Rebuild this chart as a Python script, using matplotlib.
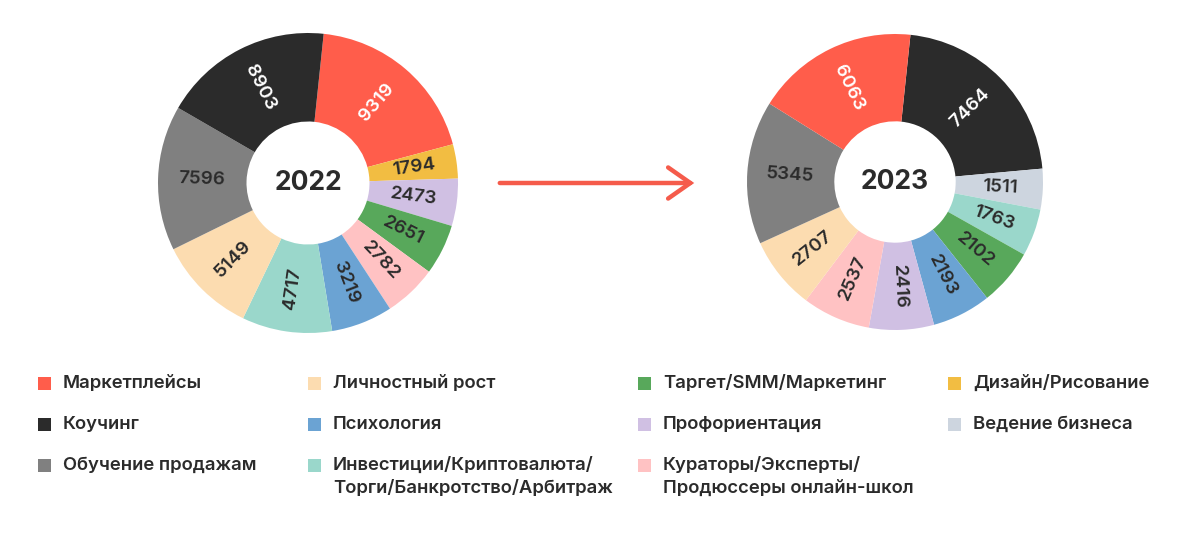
import numpy as np
import matplotlib
matplotlib.use("Agg")
import matplotlib.pyplot as plt
from matplotlib.patches import Rectangle, FancyArrowPatch

plt.rcParams['font.family'] = ['Inter', 'DejaVu Sans']

DARK = '#2b2b2b'

# categories and colours
cat_names = ['Маркетплейсы', 'Коучинг', 'Обучение продажам',
             'Личностный рост', 'Психология',
             'Инвестиции/Криптовалюта/\nТорги/Банкротство/Арбитраж',
             'Таргет/SMM/Маркетинг', 'Профориентация',
             'Кураторы/Эксперты/\nПродюссеры онлайн-школ',
             'Дизайн/Рисование', 'Ведение бизнеса']
cat_colors = ['#ff5d4b', '#2b2b2b', '#808080',
              '#fcdcb0', '#6ba3d3', '#9ad7cb',
              '#58a85b', '#d0c0e3', '#ffc2c3',
              '#f2bd42', '#cdd5df']
white_text = ['Маркетплейсы', 'Коучинг']

# 2022 (clockwise order)
cats_2022 = [0, 9, 7, 6, 8, 4, 5, 3, 2, 1]
vals_2022 = [9319, 1794, 2473, 2651, 2782, 3219, 4717, 5149, 7596, 8903]
# 2023 (clockwise order)
cats_2023 = [1, 10, 5, 6, 4, 7, 8, 3, 2, 0]
vals_2023 = [7464, 1511, 1763, 2102, 2193, 2416, 2537, 2707, 5345, 6063]

W, H = 1200, 534
fig = plt.figure(figsize=(12, 5.34), dpi=100)
fig.patch.set_facecolor('white')


def donut(cx, cy, r, cats, vals, year):
    ax = fig.add_axes([(cx - r) / W, (H - cy - r) / H, 2 * r / W, 2 * r / H])
    cols = [cat_colors[c] for c in cats]
    wedges, _ = ax.pie(vals, colors=cols, startangle=84, counterclock=False,
                       radius=1, wedgeprops=dict(width=0.59, edgecolor='none',
                                                 linewidth=0))
    for w, c, v in zip(wedges, cats, vals):
        mid = (w.theta1 + w.theta2) / 2.0
        rad = np.deg2rad(mid)
        rot = (mid + 180) % 360 - 180
        if rot > 90:
            rot -= 180
        elif rot < -90:
            rot += 180
        tc = 'white' if cat_names[c] in white_text else DARK
        ax.text(0.71 * np.cos(rad), 0.71 * np.sin(rad), str(v), rotation=rot,
                ha='center', va='center', rotation_mode='anchor',
                fontsize=13.5, fontweight='semibold', color=tc)
    ax.text(0, 0, year, ha='center', va='center', fontsize=19,
            fontweight='bold', color=DARK)
    ax.set_xlim(-1, 1)
    ax.set_ylim(-1, 1)
    ax.set_aspect('equal')
    ax.axis('off')


donut(308, 183, 150, cats_2022, vals_2022, '2022')
donut(895, 182, 148, cats_2023, vals_2023, '2023')

# overlay in pixel coords for arrow + legend
ov = fig.add_axes([0, 0, 1, 1], zorder=-1)
ov.set_xlim(0, W)
ov.set_ylim(H, 0)
ov.axis('off')

arr = FancyArrowPatch((497, 183), (697, 183), arrowstyle='->,head_length=10,head_width=7',
                      color='#f55b4b', lw=3.2, mutation_scale=1.6,
                      capstyle='round', joinstyle='miter')
ov.add_patch(arr)

# legend layout
col_x = [38, 308, 638, 948]
row_y = [383, 424, 465]
legend_cols = [[0, 1, 2], [3, 4, 5], [6, 7, 8], [9, 10]]
for ci, col in enumerate(legend_cols):
    for ri, c in enumerate(col):
        x, y = col_x[ci], row_y[ri]
        ov.add_patch(Rectangle((x, y - 6.5), 13, 13, color=cat_colors[c], lw=0))
        ov.text(x + 25, y - 8, cat_names[c], ha='left', va='top',
                fontsize=13.3, fontweight='semibold', color=DARK,
                linespacing=1.45)

fig.savefig('out.png', dpi=100)
